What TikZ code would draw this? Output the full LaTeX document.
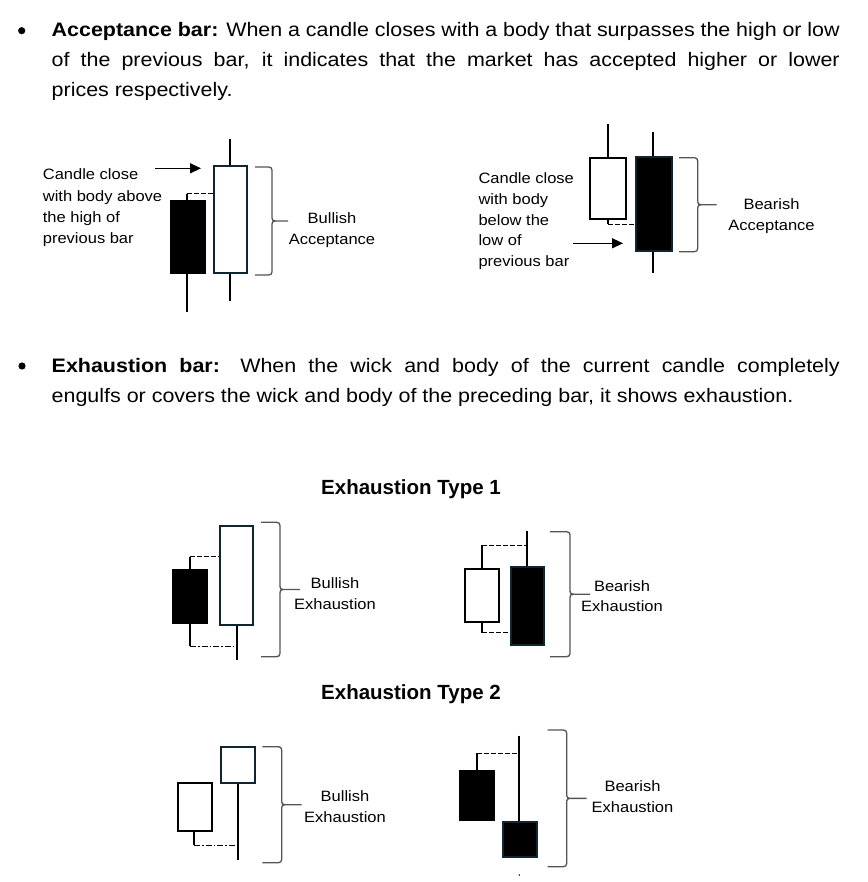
\documentclass[tikz,border=0pt]{standalone}
\usepackage{fontspec}
\setmainfont{Liberation Sans}
\newfontfamily\bodyfont[FakeStretch=1.1]{Liberation Sans}
\usetikzlibrary{arrows.meta}
\definecolor{navy}{HTML}{0F2530}
\definecolor{bracegray}{HTML}{555555}
\newcommand\mybrace[5]{%
 \pgfmathsetmacro\bym{(#4+#5)/2}%
 \draw[bracestyle] (#1,#4) -- ({#2-7},#4) .. controls (#2,#4) .. (#2,{#4+7}) -- (#2,{\bym-6}) .. controls (#2,\bym) .. ({#2+7},\bym) -- (#3,\bym)
   ({#2+7},\bym) .. controls (#2,\bym) .. (#2,{\bym+6}) -- (#2,{#5-7}) .. controls (#2,#5) .. ({#2-7},#5) -- (#1,#5);
}
\tikzset{
 wick/.style={line width=2pt, draw=black},
 prevwhite/.style={draw=black, fill=white, line width=2pt},
 prevblack/.style={draw=black, fill=black, line width=1pt},
 curwhite/.style={draw=navy, fill=white, line width=2pt},
 curblack/.style={draw=navy, fill=black, line width=2pt},
 refline/.style={line width=1pt, dash pattern=on 5pt off 2pt},
 refdashdot/.style={line width=1pt, dash pattern=on 6pt off 2pt on 1.5pt off 2pt},
 bracestyle/.style={draw=bracegray, line width=1.3pt},
 pointer/.style={line width=1.3pt, -{Triangle[length=11pt,width=10pt]}},
 bodytext/.style={inner sep=0, anchor=base west, font=\bodyfont\fontsize{19.5}{30}\selectfont},
 lbl/.style={inner sep=0, anchor=base, font=\bodyfont\fontsize{15}{21}\selectfont},
 lblw/.style={inner sep=0, anchor=base west, font=\bodyfont\fontsize{15}{21.2}\selectfont},
 title/.style={inner sep=0, anchor=base, font=\bfseries\fontsize{20.5}{24}\selectfont}
}
\begin{document}
\begin{tikzpicture}[x=1pt,y=-1pt]
\fill[white] (0,0) rectangle (867,882);
\useasboundingbox (0,0) rectangle (867,882);

% ---------- Acceptance bar text
\fill (21.7,30.7) circle (3.6);
\node[bodytext] (a1) at (51.5,36.7) {\makebox[788pt][s]{\textbf{Acceptance bar:} When a candle closes with a body that surpasses the high or low}};
\node[bodytext] (a2) at (51.5,66.7) {\makebox[788pt][s]{of the previous bar, it indicates that the market has accepted higher or lower}};
\node[bodytext] (a3) at (51.5,96.2) {prices respectively.};

% ---------- Bullish acceptance
\draw[wick] (186.7,194) -- (186.7,311.7);
\filldraw[prevblack] (170,201) rectangle (205,273);
\draw[refline] (186.7,194) -- (214,194);
\draw[wick] (230.3,139) -- (230.3,301);
\draw[curwhite] (213.7,165.7) rectangle (247.3,273.3);
\coordinate (ba1) at (155,168.3);
\coordinate (ba2) at (201,168.3);
\draw[pointer] (ba1) -- (ba2);
\mybrace{255}{272}{288}{167}{275}
\node[lblw] (bal) at (42.7,180) {\parbox[t]{130pt}{\raggedright Candle close\\with body above\\the high of\\previous bar}};
\node[lbl] (bat) at (332,224) {\parbox[t]{110pt}{\centering Bullish\\Acceptance}};

% ---------- Bearish acceptance
\draw[wick] (607.7,124) -- (607.7,224.3);
\filldraw[prevwhite] (590,157.7) rectangle (625.7,219);
\draw[refline] (607.7,224.3) -- (636,224.3);
\draw[wick] (653.3,131.7) -- (653.3,273.3);
\filldraw[curblack] (636,157) rectangle (672,250.7);
\coordinate (sa1) at (573,243.3);
\coordinate (sa2) at (623,243.3);
\draw[pointer] (sa1) -- (sa2);
\mybrace{679}{697.7}{716.7}{157.7}{251.7}
\node[lblw] (sal) at (478.3,183.5) {\parbox[t]{130pt}{\raggedright\baselineskip=20.8pt Candle close\\with body\\below the\\low of\\previous bar}};
\node[lbl] (sat) at (771.5,210) {\parbox[t]{110pt}{\centering\baselineskip=20.7pt Bearish\\Acceptance}};

% ---------- Exhaustion bar text
\fill (22,366) circle (3.6);
\node[bodytext] (e1) at (51.5,372.7) {\makebox[788pt][s]{\textbf{Exhaustion bar:} When the wick and body of the current candle completely}};
\node[bodytext] (e2) at (51.5,402.7) {engulfs or covers the wick and body of the preceding bar, it shows exhaustion.};

% ---------- Type 1
\node[title] (t1) at (411,494) {Exhaustion Type 1};

% bullish type 1
\draw[wick] (190,556.7) -- (190,646);
\filldraw[prevblack] (172.3,569) rectangle (207.7,623.3);
\draw[refline] (190,556.7) -- (219.7,556.7);
\draw[refdashdot] (190,646) -- (236.7,646);
\draw[wick] (236.7,625) -- (236.7,660);
\filldraw[curwhite] (219.7,526.3) rectangle (252.7,625);
\mybrace{261}{280}{300}{522.3}{656.7}
\node[lbl] (x1) at (335,588.3) {\parbox[t]{110pt}{\centering Bullish\\Exhaustion}};

% bearish type 1
\draw[wick] (482.3,545) -- (482.3,632.5);
\filldraw[prevwhite] (465,569) rectangle (499,621.7);
\draw[refline] (482.3,545) -- (526.7,545);
\draw[refline] (482.3,632.5) -- (510.7,632.5);
\draw[wick] (526.7,530.7) -- (526.7,567.3);
\filldraw[curblack] (510.7,567.3) rectangle (544.3,645);
\mybrace{550}{570}{590}{531.7}{656.7}
\node[lbl] (x2) at (622,591.7) {\parbox[t]{110pt}{\centering\baselineskip=20pt Bearish\\Exhaustion}};

% ---------- Type 2
\node[title] (t2) at (411,699) {Exhaustion Type 2};

% bullish type 2
\draw[wick] (194.3,830.7) -- (194.3,845);
\filldraw[prevwhite] (178,783.3) rectangle (212,830.7);
\draw[refdashdot] (194.3,845) -- (237.7,845);
\draw[wick] (237.7,783.3) -- (237.7,860);
\filldraw[curwhite] (220.7,746.7) rectangle (255,783.3);
\mybrace{262.3}{281.7}{301.7}{746.7}{862.7}
\node[lbl] (x3) at (345,801.7) {\parbox[t]{110pt}{\centering\baselineskip=20.6pt Bullish\\Exhaustion}};

% bearish type 2
\draw[wick] (476.7,753.3) -- (476.7,770);
\filldraw[prevblack] (459.3,770) rectangle (494.3,820);
\draw[refline] (476.7,753.3) -- (518.3,753.3);
\draw[wick] (519.3,735.7) -- (519.3,821.7);
\filldraw[curblack] (502.7,821.7) rectangle (537.3,856.7);
\fill (519.3,875) circle (0.8);
\mybrace{547.7}{566.7}{586.7}{730}{866.7}
\node[lbl] (x4) at (632.5,791.7) {\parbox[t]{110pt}{\centering\baselineskip=20.6pt Bearish\\Exhaustion}};
\end{tikzpicture}
\end{document}
